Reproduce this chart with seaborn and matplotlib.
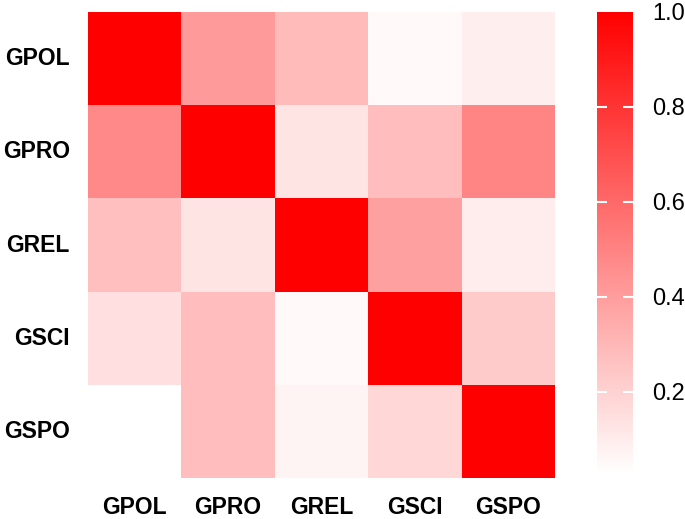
import numpy as np
import pandas as pd
import matplotlib
matplotlib.use('Agg')
import matplotlib.pyplot as plt
import seaborn as sns
from matplotlib.colors import LinearSegmentedColormap

# Labels and correlation values
labels = ['GPOL', 'GPRO', 'GREL', 'GSCI', 'GSPO']
row_gpol = [1.00, 0.41, 0.29, 0.05, 0.09]
row_gpro = [0.48, 1.00, 0.13, 0.28, 0.49]
row_grel = [0.27, 0.13, 1.00, 0.39, 0.10]
row_gsci = [0.15, 0.28, 0.05, 1.00, 0.23]
row_gspo = [0.025, 0.28, 0.07, 0.18, 1.00]
cbar_ticks = [0.2, 0.4, 0.6, 0.8, 1.0]

df = pd.DataFrame([row_gpol, row_gpro, row_grel, row_gsci, row_gspo],
                  index=labels, columns=labels)

plt.rcParams['font.family'] = ['Liberation Sans', 'DejaVu Sans']

cmap = LinearSegmentedColormap.from_list('wr', ['#FFFFFF', '#FF0000'])

fig = plt.figure(figsize=(6.85, 5.19), dpi=100)
W, H = 685, 519
ax = fig.add_axes([88 / W, 1 - 478 / H, (555 - 88) / W, (478 - 12) / H])
cax = fig.add_axes([597 / W, 1 - 475 / H, (633 - 597) / W, (475 - 12) / H])

sns.heatmap(df, ax=ax, cbar_ax=cax, cmap=cmap,
            vmin=df.values.min(), vmax=1.0,
            cbar_kws={'ticks': cbar_ticks})

ax.tick_params(length=0)
ax.tick_params(axis='x', pad=13)
ax.tick_params(axis='y', pad=13)
for t in ax.get_xticklabels():
    t.set_fontsize(16.5)
    t.set_fontweight('bold')
    t.set_rotation(0)
for t in ax.get_yticklabels():
    t.set_fontsize(16.5)
    t.set_fontweight('bold')
    t.set_rotation(0)

cb = ax.collections[0].colorbar
cb.outline.set_visible(False)
cb.set_ticklabels(['0.2', '0.4', '0.6', '0.8', '1.0'])
cax.tick_params(axis='y', which='both', direction='in', color='white',
                width=1.5, length=7, left=True, right=True,
                labelleft=False, labelright=True, labelsize=17, pad=14)
# the top tick sits on the edge of the bar and is not drawn in the reference
top_tick = cax.yaxis.get_major_ticks()[-1]
top_tick.tick1line.set_visible(False)
top_tick.tick2line.set_visible(False)

fig.savefig('out.png', dpi=100)
